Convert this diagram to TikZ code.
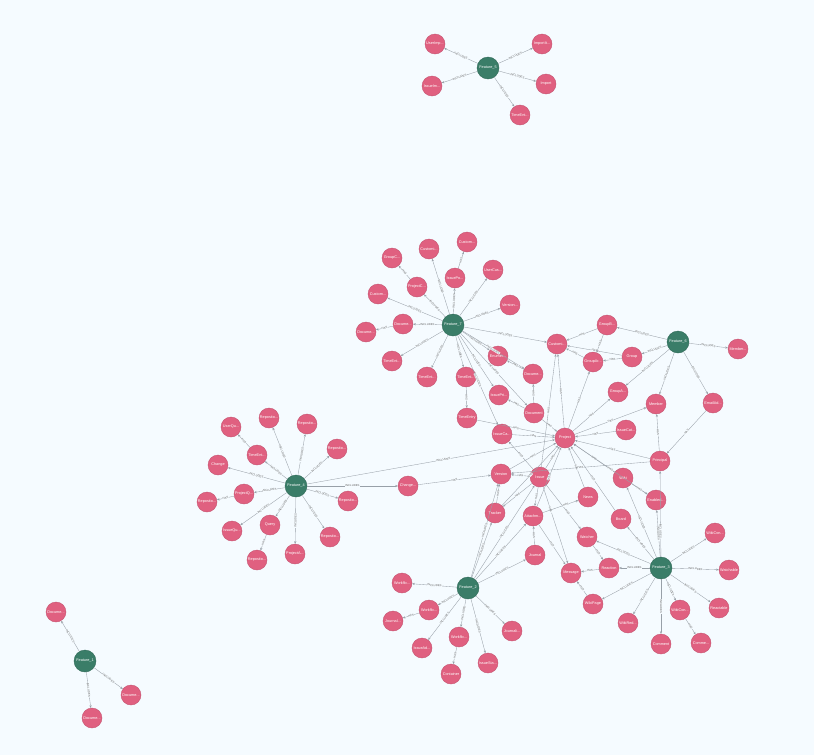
\documentclass[tikz,border=0pt]{standalone}
\usepackage{fontspec}
\setmainfont{Liberation Sans}
\usepackage{tikz}
\usetikzlibrary{arrows.meta}
\definecolor{bgc}{RGB}{245,251,255}
\definecolor{pinkn}{RGB}{224,96,128}
\definecolor{greenn}{RGB}{58,125,104}
\definecolor{edgec}{RGB}{152,160,168}
\tikzset{
    mynodep/.style = {circle, line width=0.4pt, draw=pinkn!88!black, fill=pinkn, minimum size=20pt, inner sep=0pt, font=\fontsize{3.8}{4.5}\selectfont, text=white},
    mynodef/.style = {circle, line width=0.4pt, draw=greenn!85!black, fill=greenn, minimum size=22pt, inner sep=0pt, font=\fontsize{3.8}{4.5}\selectfont, text=white},
    edgen/.style = {-{Stealth[length=2.6pt,width=2.2pt]}, line width=0.35pt, edgec},
    lbl/.style = {sloped, font=\fontsize{2.8}{3.2}\selectfont, text=gray!80!black, fill=bgc, inner sep=0.3pt}
}

\begin{document}
\begin{tikzpicture}[x=1pt,y=-1pt]
\fill[bgc] (0,0) rectangle (814,755);
\path[use as bounding box] (0,0) rectangle (814,755);
% Feature_5
\node[mynodef] at (488,68) (f5) {Feature\_5};
\node[mynodep] at (435,44) (uimp) {UserImp...};
\node[mynodep] at (542,44) (iimp) {ImportIt...};
\node[mynodep] at (432,86) (isim) {IssueIm...};
\node[mynodep] at (546,84) (imp) {Import};
\node[mynodep] at (520,115) (tei5) {TimeEnt...};
% Feature_7
\node[mynodef] at (453,325) (f7) {Feature\_7};
\node[mynodep] at (392,258) (grpc) {GroupC...};
\node[mynodep] at (429,249) (cust1) {Customi...};
\node[mynodep] at (467,242) (cust2) {Custom...};
\node[mynodep] at (455,278) (isspo) {IssuePo...};
\node[mynodep] at (493,270) (ucus) {UserCus...};
\node[mynodep] at (417,287) (prjc) {ProjectC...};
\node[mynodep] at (378,294) (cust3) {Custom...};
\node[mynodep] at (510,305) (vers7) {Version...};
\node[mynodep] at (403,324) (doc1) {Docume...};
\node[mynodep] at (366,332) (doc2) {Docume...};
\node[mynodep] at (392,361) (te1) {TimeEnt...};
\node[mynodep] at (427,377) (te2) {TimeEnt...};
\node[mynodep] at (466,377) (te3) {TimeEnt...};
\node[mynodep] at (498,356) (enum) {Enumer...};
\node[mynodep] at (499,395) (ipri) {IssuePri...};
% Feature_6
\node[mynodef] at (678,342) (f6) {Feature\_6};
\node[mynodep] at (607,325) (grpb) {GroupB...};
\node[mynodep] at (557,344) (custp) {Customi...};
\node[mynodep] at (632,357) (grp) {Group};
\node[mynodep] at (593,362) (grpa1) {GroupAr...};
\node[mynodep] at (738,349) (mem2) {Member...};
\node[mynodep] at (618,392) (grpa2) {GroupA...};
\node[mynodep] at (656,404) (mem) {Member};
\node[mynodep] at (713,403) (email) {EmailAd...};
\node[mynodep] at (533,374) (doc3) {Docume...};
\node[mynodep] at (534,413) (docmt) {Document};
% centre
\node[mynodep] at (467,418) (tent) {TimeEntry};
\node[mynodep] at (502,434) (isca) {IssueCa...};
\node[mynodep] at (565,438) (proj) {Project};
\node[mynodep] at (626,430) (iscat) {IssueCat...};
\node[mynodep] at (660,461) (prin) {Principal};
\node[mynodep] at (501,474) (vers) {Version};
\node[mynodep] at (540,477) (issue) {Issue};
\node[mynodep] at (623,478) (wiki) {Wiki};
\node[mynodep] at (588,497) (news) {News};
\node[mynodep] at (656,500) (enab) {Enabled...};
\node[mynodep] at (495,513) (trk) {Tracker};
\node[mynodep] at (533,516) (att) {Attachm...};
\node[mynodep] at (621,519) (board) {Board};
\node[mynodep] at (587,537) (watch) {Watcher};
\node[mynodep] at (535,555) (journ) {Journal};
\node[mynodep] at (609,568) (react) {Reaction};
\node[mynodep] at (571,573) (msg) {Message};
% Feature_4
\node[mynodef] at (296,486) (f4) {Feature\_4};
\node[mynodep] at (231,427) (uq) {UserQu...};
\node[mynodep] at (269,418) (rep1) {Reposito...};
\node[mynodep] at (307,424) (rep2) {Reposito...};
\node[mynodep] at (257,455) (te4) {TimeEnt...};
\node[mynodep] at (337,449) (rep3) {Reposito...};
\node[mynodep] at (218,465) (chng) {Change};
\node[mynodep] at (244,494) (pq) {ProjectQ...};
\node[mynodep] at (207,502) (rep4) {Reposito...};
\node[mynodep] at (408,486) (chg) {Change...};
\node[mynodep] at (348,501) (rep5) {Reposito...};
\node[mynodep] at (270,525) (query) {Query};
\node[mynodep] at (232,531) (iq) {IssueQu...};
\node[mynodep] at (330,537) (rep6) {Reposito...};
\node[mynodep] at (295,554) (pa) {ProjectA...};
\node[mynodep] at (257,560) (rep7) {Reposito...};
% Feature_2
\node[mynodef] at (468,588) (f2) {Feature\_2};
\node[mynodep] at (402,583) (wf1) {Workflo...};
\node[mynodep] at (429,610) (wf2) {Workflo...};
\node[mynodep] at (393,621) (jn1) {Journal...};
\node[mynodep] at (422,648) (isad) {IssueAd...};
\node[mynodep] at (459,637) (wf3) {Workflo...};
\node[mynodep] at (451,674) (cont) {Container};
\node[mynodep] at (488,663) (issta) {IssueSta...};
\node[mynodep] at (512,631) (jnl2) {Journali...};
% Feature_3
\node[mynodef] at (661,568) (f3) {Feature\_3};
\node[mynodep] at (715,533) (wcon1) {WikiCon...};
\node[mynodep] at (729,570) (watchb) {Watchable};
\node[mynodep] at (593,604) (wpage) {WikiPage};
\node[mynodep] at (680,610) (wcon2) {WikiCon...};
\node[mynodep] at (719,608) (reacb) {Reactable};
\node[mynodep] at (628,623) (wred) {WikiRed...};
\node[mynodep] at (661,644) (comm) {Comment};
\node[mynodep] at (701,643) (comm2) {Comme...};
% Feature_1
\node[mynodef] at (85,661) (f1) {Feature\_1};
\node[mynodep] at (56,612) (d1) {Docume...};
\node[mynodep] at (131,695) (d2) {Docume...};
\node[mynodep] at (92,718) (d3) {Docume...};
%
\draw[edgen] (f5) edge node[lbl] {INCLUDES} (uimp);
\draw[edgen] (f5) edge node[lbl] {INCLUDES} (iimp);
\draw[edgen] (f5) edge node[lbl] {INCLUDES} (isim);
\draw[edgen] (f5) edge node[lbl] {INCLUDES} (imp);
\draw[edgen] (f5) edge node[lbl] {INCLUDES} (tei5);
%
\draw[edgen] (f7) edge node[lbl] {INCLUDES} (cust1);
\draw[edgen] (f7) edge node[lbl] {INCLUDES} (isspo);
\draw[edgen] (f7) edge node[lbl] {INCLUDES} (ucus);
\draw[edgen] (f7) edge node[lbl] {INCLUDES} (prjc);
\draw[edgen] (f7) edge node[lbl] {INCLUDES} (cust3);
\draw[edgen] (f7) edge node[lbl] {INCLUDES} (vers7);
\draw[edgen] (f7) edge node[lbl] {INCLUDES} (doc1);
\draw[edgen] (f7) edge node[lbl] {INCLUDES} (te1);
\draw[edgen] (f7) edge node[lbl] {INCLUDES} (te2);
\draw[edgen] (f7) edge node[lbl] {INCLUDES} (te3);
\draw[edgen] (f7) edge node[lbl] {INCLUDES} (enum);
\draw[edgen] (f7) edge node[lbl] {INCLUDES} (ipri);
\draw[edgen] (f7) edge node[lbl] {INCLUDES} (custp);
\draw[edgen] (f7) edge node[lbl] {INCLUDES} (doc3);
\draw[edgen] (f7) edge node[lbl] {INCLUDES} (docmt);
\draw[edgen] (f7) edge node[lbl] {INCLUDES} (isca);
\draw[edgen] (prjc) edge node[lbl] {HAS} (grpc);
\draw[edgen] (isspo) edge node[lbl] {HAS} (cust2);
\draw[edgen] (doc1) edge node[lbl] {HAS} (doc2);
\draw[edgen] (te3) edge node[lbl] {HAS} (tent);
\draw[edgen] (doc3) edge node[lbl] {HAS} (enum);
\draw[edgen] (docmt) edge node[lbl] {HAS} (doc3);
\draw[edgen] (docmt) edge node[lbl] {HAS} (ipri);
%
\draw[edgen] (f6) edge node[lbl] {INCLUDES} (grpb);
\draw[edgen] (f6) edge node[lbl] {INCLUDES} (grp);
\draw[edgen] (f6) edge node[lbl] {INCLUDES} (mem2);
\draw[edgen] (f6) edge node[lbl] {INCLUDES} (grpa2);
\draw[edgen] (f6) edge node[lbl] {INCLUDES} (mem);
\draw[edgen] (f6) edge node[lbl] {INCLUDES} (email);
\draw[edgen] (grpb) edge node[lbl] {HAS} (custp);
\draw[edgen] (grp) edge node[lbl] {HAS} (custp);
\draw[edgen] (grpa1) edge node[lbl] {HAS} (custp);
\draw[edgen] (grpb) edge node[lbl] {HAS} (grpa1);
\draw[edgen] (grp) edge node[lbl] {HAS} (grpa1);
\draw[edgen] (email) edge node[lbl] {HAS} (prin);
%
\draw[edgen] (proj) edge node[lbl] {HAS} (custp);
\draw[edgen] (proj) edge node[lbl] {HAS} (grpa1);
\draw[edgen] (proj) edge node[lbl] {HAS} (grpa2);
\draw[edgen] (proj) edge node[lbl] {HAS} (mem);
\draw[edgen] (iscat) edge node[lbl] {HAS} (proj);
\draw[edgen] (prin) edge node[lbl] {HAS} (proj);
\draw[edgen] (docmt) edge node[lbl] {HAS} (proj);
\draw[edgen] (tent) edge node[lbl] {HAS} (proj);
\draw[edgen] (isca) edge node[lbl] {HAS} (proj);
\draw[edgen] (vers) edge node[lbl] {HAS} (proj);
\draw[edgen] (issue) edge node[lbl] {HAS} (proj);
\draw[edgen] (wiki) edge node[lbl] {HAS} (proj);
\draw[edgen] (news) edge node[lbl] {HAS} (proj);
\draw[edgen] (board) edge node[lbl] {HAS} (proj);
\draw[edgen] (trk) edge node[lbl] {HAS} (proj);
\draw[edgen] (enab) edge node[lbl] {HAS} (proj);
\draw[edgen] (att) edge node[lbl] {HAS} (proj);
\draw[edgen] (prin) edge node[lbl] {HAS} (mem);
\draw[edgen] (prin) edge node[lbl] {HAS} (vers);
\draw[edgen] (issue) edge node[lbl] {HAS} (trk);
\draw[edgen] (issue) edge node[lbl] {HAS} (att);
\draw[edgen] (issue) edge node[lbl] {HAS} (vers);
\draw[edgen] (issue) edge node[lbl, pos=0.62] {HAS} (watch);
\draw[edgen] (issue) edge node[lbl] {HAS} (custp);
\draw[edgen] (issue) edge node[lbl] {HAS} (isca);
\draw[edgen] (issue) edge node[lbl, pos=0.3] {HAS} (msg);
\draw[edgen] (att) edge node[lbl, pos=0.65] {HAS} (news);
\draw[edgen] (att) edge node[lbl] {HAS} (msg);
\draw[edgen] (journ) edge node[lbl] {HAS} (att);
\draw[edgen] (trk) edge node[lbl] {HAS} (vers);
\draw[edgen] (watch) edge node[lbl] {HAS} (react);
\draw[edgen] (react) edge node[lbl] {HAS} (msg);
\draw[edgen] (wpage) edge node[lbl] {HAS} (msg);
\draw[edgen] (wiki) edge node[lbl] {HAS} (enab);
\draw[edgen] (chg) edge node[lbl] {HAS} (vers);
%
\draw[edgen] (f4) edge node[lbl] {INCLUDES} (rep1);
\draw[edgen] (f4) edge node[lbl] {INCLUDES} (rep2);
\draw[edgen] (f4) edge node[lbl] {INCLUDES} (te4);
\draw[edgen] (f4) edge node[lbl] {INCLUDES} (rep3);
\draw[edgen] (f4) edge node[lbl] {INCLUDES} (chng);
\draw[edgen] (f4) edge node[lbl] {INCLUDES} (pq);
\draw[edgen] (f4) edge node[lbl] {INCLUDES} (chg);
\draw[edgen] (f4) edge node[lbl] {INCLUDES} (rep5);
\draw[edgen] (f4) edge node[lbl] {INCLUDES} (query);
\draw[edgen] (f4) edge node[lbl] {INCLUDES} (iq);
\draw[edgen] (f4) edge node[lbl] {INCLUDES} (rep6);
\draw[edgen] (f4) edge node[lbl] {INCLUDES} (pa);
\draw[edgen] (f4) edge node[lbl, pos=0.55] {INCLUDES} (proj);
\draw[edgen] (te4) edge node[lbl] {HAS} (uq);
\draw[edgen] (pq) edge node[lbl] {HAS} (rep4);
\draw[edgen] (query) edge node[lbl] {HAS} (rep7);
%
\draw[edgen] (f2) edge node[lbl] {INCLUDES} (wf1);
\draw[edgen] (f2) edge node[lbl] {INCLUDES} (wf2);
\draw[edgen] (f2) edge node[lbl] {INCLUDES} (isad);
\draw[edgen] (f2) edge node[lbl] {INCLUDES} (wf3);
\draw[edgen] (f2) edge node[lbl] {INCLUDES} (issta);
\draw[edgen] (f2) edge node[lbl] {INCLUDES} (jnl2);
\draw[edgen] (f2) edge node[lbl] {INCLUDES} (journ);
\draw[edgen] (f2) edge node[lbl] {INCLUDES} (trk);
\draw[edgen] (f2) edge node[lbl] {INCLUDES} (vers);
\draw[edgen] (f2) edge node[lbl] {INCLUDES} (att);
\draw[edgen] (f2) edge node[lbl] {INCLUDES} (issue);
\draw[edgen] (wf2) edge node[lbl] {HAS} (jn1);
\draw[edgen] (wf3) edge node[lbl] {HAS} (cont);
%
\draw[edgen] (f3) edge node[lbl] {INCLUDES} (board);
\draw[edgen] (f3) edge node[lbl] {INCLUDES} (enab);
\draw[edgen] (f3) edge node[lbl] {INCLUDES} (wcon1);
\draw[edgen] (f3) edge node[lbl] {INCLUDES} (watch);
\draw[edgen] (f3) edge node[lbl] {INCLUDES} (react);
\draw[edgen] (f3) edge node[lbl] {INCLUDES} (watchb);
\draw[edgen] (f3) edge node[lbl] {INCLUDES} (wpage);
\draw[edgen] (f3) edge node[lbl] {INCLUDES} (wcon2);
\draw[edgen] (f3) edge node[lbl] {INCLUDES} (reacb);
\draw[edgen] (f3) edge node[lbl] {INCLUDES} (wred);
\draw[edgen] (f3) edge node[lbl] {INCLUDES} (comm);
\draw[edgen] (f3) edge node[lbl] {INCLUDES} (wiki);
\draw[edgen] (f3) edge node[lbl, pos=0.3] {INCLUDES} (prin);
\draw[edgen] (wcon2) edge node[lbl] {HAS} (comm2);
%
\draw[edgen] (f1) edge node[lbl] {INCLUDES} (d1);
\draw[edgen] (f1) edge node[lbl] {INCLUDES} (d2);
\draw[edgen] (f1) edge node[lbl] {INCLUDES} (d3);
\end{tikzpicture}
\end{document}
